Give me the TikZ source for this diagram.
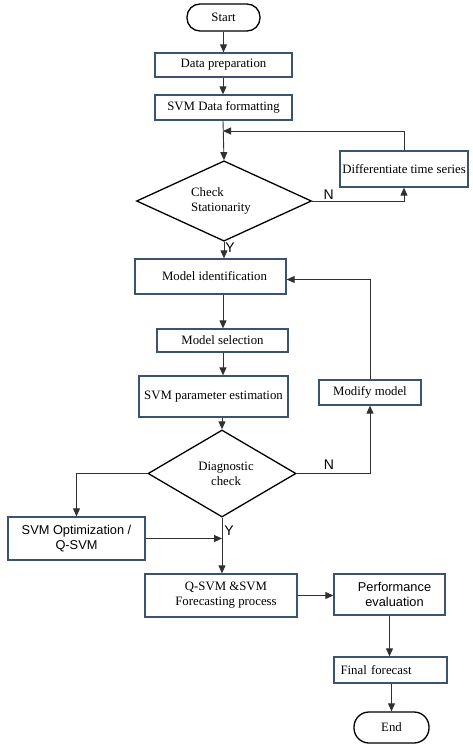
\documentclass[tikz,border=0pt]{standalone}
\usepackage{fontspec}
\setmainfont{Liberation Serif}
\newfontfamily\arialfont{Liberation Sans}
\usetikzlibrary{arrows.meta,shapes.geometric,calc}
\definecolor{boxblue}{HTML}{3A5373}
\definecolor{linegray}{HTML}{303030}
\tikzset{
  every node/.style={font=\fontsize{12.8}{15}\selectfont},
  procbox/.style={draw=boxblue,line width=1.3pt,fill=white,inner sep=1pt,align=center},
  termbox/.style={draw=black,line width=1.3pt,rounded corners=13pt,inner sep=1pt},
  decbox/.style={diamond,draw=black,line width=1.3pt,inner sep=0pt,align=center},
  arr/.style={draw=linegray,line width=0.9pt,-{Triangle[length=8pt,width=7pt]}},
  yn/.style={font=\arialfont\fontsize{14}{16}\selectfont,inner sep=0pt}
}
\begin{document}
\begin{tikzpicture}[x=1pt,y=-1pt]
\useasboundingbox (0,0) rectangle (472,745);
\coordinate (col) at (223,0);
\node[termbox,minimum width=73pt,minimum height=27pt] (start) at (223.5,17.5) {Start};
\node[procbox,minimum width=137pt,minimum height=24pt] (prep) at (223.5,65) {Data preparation};
\node[procbox,minimum width=137pt,minimum height=25pt] (fmt) at (223.5,107.5) {SVM Data formatting};
\node[procbox,minimum width=128pt,minimum height=36pt] (diff) at (404,169) {Differentiate time series};
\node[decbox,minimum width=175pt,minimum height=60pt,align=left] (check) at (224,201) {\hspace*{-6pt}Check\\\hspace*{-6pt}Stationarity};
\node[procbox,minimum width=151pt,minimum height=35pt] (mid) at (210.5,276.5) {\hspace*{8pt}Model identification};
\node[procbox,minimum width=131pt,minimum height=23pt] (msel) at (222.5,340.5) {Model selection};
\node[procbox,minimum width=149pt,minimum height=41pt] (par) at (213.5,396.5) {SVM parameter estimation};
\node[procbox,minimum width=102pt,minimum height=25pt] (mod) at (370,392.5) {Modify model};
\node[decbox,minimum width=148pt,minimum height=61pt] (diag) at (222,473.5) {\hspace*{8pt}Diagnostic\\\hspace*{8pt}check};
\node[procbox,minimum width=137pt,minimum height=43pt,font=\arialfont\fontsize{12.8}{15}\selectfont] (opt) at (76.5,538.5) {SVM Optimization /\\Q-SVM};
\node[procbox,minimum width=152pt,minimum height=43pt] (qsvm) at (221,595.5) {\hspace*{10pt}Q-SVM \&SVM\\\hspace*{10pt}Forecasting process};
\node[procbox,minimum width=111pt,minimum height=41pt,font=\arialfont\fontsize{12.8}{15}\selectfont] (perf) at (389.5,594.5) {\hspace*{10pt}Performance\\\hspace*{10pt}evaluation};
\node[procbox,minimum width=113pt,minimum height=26pt,text width=100pt,align=left,inner xsep=6pt] (fin) at (390.5,670) {Final forecast};
\node[termbox,minimum width=75pt,minimum height=31pt,rounded corners=15pt] (end) at (391.5,727.5) {End};
\coordinate (m1) at (223,131);
\coordinate (m2) at (222,538.5);
% connectors
\draw[arr] (start) -- (prep);
\draw[arr] (prep.south -| col) -- (fmt.north -| col);
\draw[arr] (fmt.south -| col) -- (check.north);
\draw[arr] (check.east) -| node[yn,pos=0.09,above=1pt] {N} (diff.south);
\draw[arr] (diff.north) |- (m1);
\draw[arr] (check.south) -- node[yn,pos=0.35,right,xshift=1pt] {Y} (mid.north -| check.south);
\draw[arr] (mid.south -| col) -- (msel.north -| col);
\draw[arr] (msel.south -| col) -- (par.north -| col);
\draw[arr] (par.south -| diag.north) -- (diag.north);
\draw[arr] (diag.east) -| node[yn,pos=0.22,above=4pt] {N} (mod.south);
\draw[arr] (mod.north) |- ($(mid.east)+(0,3)$);
\draw[arr] (diag.west) -| (opt.north);
\draw[arr] (diag.south) -- node[yn,pos=0.24,right,xshift=2pt] {Y} (qsvm.north -| diag.south);
\draw[arr] (opt.east |- m2) -- (m2);
\draw[arr] (qsvm.east) -- (perf.west |- qsvm.east);
\draw[arr] (perf.south) -- (fin.north -| perf.south);
\draw[arr] (fin.south -| end.north) -- (end.north);
\end{tikzpicture}
\end{document}
